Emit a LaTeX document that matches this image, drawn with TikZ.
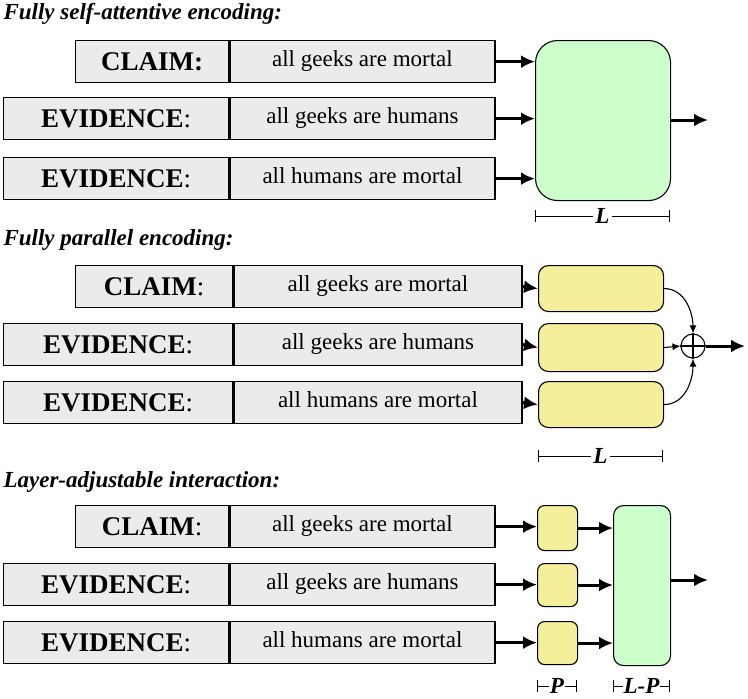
\documentclass[tikz,border=0pt]{standalone}
\usepackage{fontspec}
\setmainfont{Liberation Serif}
\usetikzlibrary{arrows,arrows.meta,positioning}
\definecolor{boxgray}{HTML}{EBEBEB}
\definecolor{encgreen}{HTML}{CCFFCC}
\definecolor{encyellow}{HTML}{F5EE9A}
\tikzset{
	tag/.style={
		% The shape:
		rectangle,minimum height=42pt,
		% The rest
		draw=black,line width=1.3pt,fill=boxgray,font=\fontsize{27}{29}\selectfont,
	}}
\tikzset{
	sent/.style={
		% The shape:
		rectangle,minimum height=42pt,anchor=west,text height=14pt,text depth=5pt,
		% The rest
		draw=black,line width=1.3pt,fill=boxgray,font=\fontsize{23}{25}\selectfont,
	}}
\tikzset{
	enc/.style={
		% The shape:
		shape=rectangle,rounded corners=10pt,anchor=north west,
		% The border:
		draw=black,line width=1.1pt,
	}}
\tikzset{
	title/.style={anchor=west,font=\fontsize{23}{25}\selectfont\bfseries\itshape},
	feed/.style={-{Latex[length=14pt,width=13pt]},line width=3pt},
	span/.style={{|[width=12pt]}-{|[width=12pt]},line width=1pt},
	lab/.style={midway,fill=white,inner sep=2pt,font=\fontsize{23}{25}\selectfont\bfseries\itshape},
}

\begin{document}
\begin{tikzpicture}[x=1pt,y=-1pt]
				\useasboundingbox (0,0) rectangle (748,699);
				% self-attentive
				\node[title] (t1) at (0,14) {Fully self-attentive encoding:};
				\node[tag,anchor=north west,minimum width=153pt] (c1) at (75,40) {\textbf{CLAIM:}};
				\node[sent,minimum width=265pt] (c1s) at (c1.east) {all geeks are mortal};
				\node[tag,anchor=north west,minimum width=225pt] (e1) at (3,97) {\textbf{EVIDENCE}:};
				\node[sent,minimum width=265pt] (e1s) at (e1.east) {all geeks are humans};
				\node[tag,anchor=north west,minimum width=225pt] (f1) at (3,157) {\textbf{EVIDENCE}:};
				\node[sent,minimum width=265pt] (f1s) at (f1.east) {all humans are mortal};
				\node[enc,fill=encgreen,rounded corners=22pt,minimum width=135pt,minimum height=160pt] (g1) at (535,40) {};
				\draw[feed] (c1s.east) -- (c1s.east -| g1.west);
				\draw[feed] (e1s.east) -- (e1s.east -| g1.west);
				\draw[feed] (f1s.east) -- (f1s.east -| g1.west);
				\coordinate (o1) at (708,120);
				\draw[feed] (g1.east |- o1) -- (o1);
				\coordinate (l1a) at (535,216);
				\coordinate (l1b) at (670,216);
				\draw[span] (l1a) -- (l1b) node[lab] {L};
				% parallel
				\node[title] (t2) at (0,240) {Fully parallel encoding:};
				\node[tag,anchor=north west,minimum width=157pt] (c2) at (75,265) {\textbf{CLAIM}:};
				\node[sent,minimum width=288pt] (c2s) at (c2.east) {all geeks are mortal};
				\node[tag,anchor=north west,minimum width=229pt] (e2) at (3,323) {\textbf{EVIDENCE}:};
				\node[sent,minimum width=288pt] (e2s) at (e2.east) {all geeks are humans};
				\node[tag,anchor=north west,minimum width=229pt] (f2) at (3,381) {\textbf{EVIDENCE}:};
				\node[sent,minimum width=288pt] (f2s) at (f2.east) {all humans are mortal};
				\node[enc,fill=encyellow,minimum width=125pt,minimum height=46pt] (y21) at (538,265) {};
				\node[enc,fill=encyellow,minimum width=125pt,minimum height=48pt] (y22) at (538,323) {};
				\node[enc,fill=encyellow,minimum width=125pt,minimum height=46pt] (y23) at (538,381) {};
				\draw[feed] (c2s.east) -- (y21.west);
				\draw[feed] (e2s.east) -- (y22.west);
				\draw[feed] (f2s.east) -- (y23.west);
				\node[draw,circle,line width=1.1pt,minimum size=24pt,inner sep=0pt] (sum) at (693,346) {};
				\draw[line width=1.1pt] (sum.north) -- (sum.south) (sum.west) -- (sum.east);
				\draw[-{Latex[length=8pt,width=7pt]},line width=1.1pt] (y21.east) to[out=0,in=90] (sum.north);
				\draw[-{Latex[length=8pt,width=7pt]},line width=1.1pt] (y22.east) -- (sum.west);
				\draw[-{Latex[length=8pt,width=7pt]},line width=1.1pt] (y23.east) to[out=0,in=-90] (sum.south);
				\coordinate (o2) at (745,346);
				\draw[feed] (sum.east) -- (o2);
				\coordinate (l2a) at (538,456);
				\coordinate (l2b) at (663,456);
				\draw[span] (l2a) -- (l2b) node[lab] {L};
				% layer-adjustable
				\node[title] (t3) at (0,482) {Layer-adjustable interaction:};
				\node[tag,anchor=north west,minimum width=153pt] (c3) at (75,505) {\textbf{CLAIM}:};
				\node[sent,minimum width=265pt] (c3s) at (c3.east) {all geeks are mortal};
				\node[tag,anchor=north west,minimum width=225pt] (e3) at (3,563) {\textbf{EVIDENCE}:};
				\node[sent,minimum width=265pt] (e3s) at (e3.east) {all geeks are humans};
				\node[tag,anchor=north west,minimum width=225pt] (f3) at (3,621) {\textbf{EVIDENCE}:};
				\node[sent,minimum width=265pt] (f3s) at (f3.east) {all humans are mortal};
				\node[enc,fill=encyellow,rounded corners=7pt,minimum width=40pt,minimum height=45pt] (y31) at (537,505) {};
				\node[enc,fill=encyellow,rounded corners=7pt,minimum width=40pt,minimum height=43pt] (y32) at (537,563) {};
				\node[enc,fill=encyellow,rounded corners=7pt,minimum width=40pt,minimum height=43pt] (y33) at (537,621) {};
				\node[enc,fill=encgreen,minimum width=57pt,minimum height=160pt] (g3) at (613,505) {};
				\draw[feed] (c3s.east) -- (c3s.east -| y31.west);
				\draw[feed] (e3s.east) -- (e3s.east -| y32.west);
				\draw[feed] (f3s.east) -- (f3s.east -| y33.west);
				\draw[feed] (y31.east) -- (y31.east -| g3.west);
				\draw[feed] (y32.east) -- (y32.east -| g3.west);
				\draw[feed] (y33.east) -- (y33.east -| g3.west);
				\coordinate (o3) at (708,580);
				\draw[feed] (g3.east |- o3) -- (o3);
				\coordinate (p3a) at (537,686);
				\coordinate (p3b) at (577,686);
				\draw[span] (p3a) -- (p3b) node[lab,inner sep=1pt] {P};
				\coordinate (q3a) at (613,686);
				\coordinate (q3b) at (670,686);
				\draw[span] (q3a) -- (q3b) node[lab,inner sep=1pt] {L-P};
\end{tikzpicture}
\end{document}
